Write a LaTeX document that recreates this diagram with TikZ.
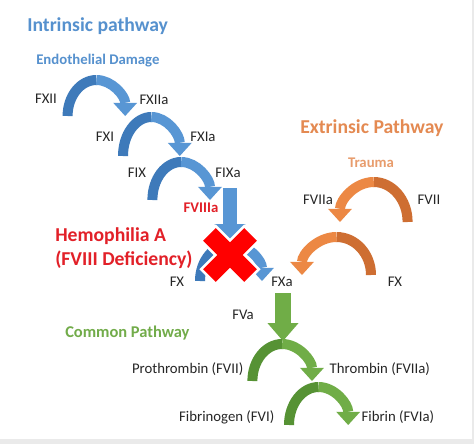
\documentclass[tikz,border=0pt]{standalone}
\usepackage{fontspec}
\setmainfont{Carlito}
\usepackage{tikz}
\usetikzlibrary{arrows.meta}
\definecolor{coagblue}{RGB}{88,150,212}
\definecolor{coagbluedark}{RGB}{62,122,186}
\definecolor{coagbluetxt}{RGB}{86,145,206}
\definecolor{coagorange}{RGB}{236,136,68}
\definecolor{coagorangedark}{RGB}{206,110,50}
\definecolor{coagorangetxt}{RGB}{228,138,82}
\definecolor{coaggreen}{RGB}{112,173,71}
\definecolor{coaggreendark}{RGB}{86,146,52}
\definecolor{coaggreentxt}{RGB}{114,172,74}
\definecolor{coagred}{RGB}{226,32,40}
\definecolor{coaggray}{RGB}{234,234,234}

% ribbon arrow: #1 foot, #2 start angle, #3 end angle, #4 x radius, #5 y radius, #6 colour
\newcommand{\ribbonarc}[6]{%
  \draw[#6dark, line width=0.25cm] (#1) arc[start angle=#2, end angle=90, x radius=#4, y radius=#5] coordinate (#1top);
  \draw[bendarc, #6] (#1top) arc[start angle=90, end angle=#3, x radius=#4, y radius=#5];
}

\begin{document}
\begin{tikzpicture}[
    factor/.style={font=\fontsize{10.5}{12}\selectfont, text=black!85, inner sep=1pt},
    heading/.style={font=\fontsize{14}{16}\selectfont\bfseries, anchor=west, inner sep=0pt},
    subheading/.style={font=\fontsize{10.5}{12}\selectfont\bfseries, inner sep=0pt},
    bendarc/.style={line width=0.25cm, -{Triangle[length=0.33cm, width=0.6cm, line width=0pt]}},
    droparrow/.style={-{Triangle[length=0.45cm, width=0.78cm, line width=0pt]}}
  ]
  % page and frame
  \fill[coaggray] (0,0) rectangle (11.85,11.1);
  \fill[white] (0,0.125) rectangle (11.8,11.1);

  % intrinsic pathway
  \node[heading, text=coagbluetxt] (intr) at (0.675,10.45) {Intrinsic pathway};
  \node[subheading, anchor=west, text=coagbluetxt] (endo) at (0.9,9.575) {Endothelial Damage};
  \node[factor] (fxii) at (1.15,8.625) {FXII};
  \node[factor] (fxiia) at (3.85,8.6) {FXIIa};
  \node[factor] (fxi) at (2.625,7.675) {FXI};
  \node[factor] (fxia) at (5.075,7.675) {FXIa};
  \node[factor] (fix) at (3.425,6.775) {FIX};
  \node[factor] (fixa) at (5.7,6.775) {FIXa};
  \node[factor, font=\fontsize{10.5}{12}\selectfont\bfseries, text=coagred] (fviiia) at (5.025,5.9) {FVIIIa};
  \node[factor] (fxl) at (4.425,4.05) {FX};
  \node[factor] (fxa) at (7.05,4.05) {FXa};

  \coordinate (i1) at (1.69,8.2);
  \coordinate (i2) at (3.075,7.2);
  \coordinate (i3) at (3.81,6.1);
  \coordinate (i4) at (5.0,4.075);
  \coordinate (bt) at (5.75,6.4);
  \coordinate (bb) at (5.75,5.05);
  \coordinate (hx) at (5.75,4.725);

  \ribbonarc{i1}{180}{0}{0.72}{0.9}{coagblue}
  \ribbonarc{i2}{180}{0}{0.71}{0.975}{coagblue}
  \ribbonarc{i3}{180}{0}{0.72}{0.95}{coagblue}
  \ribbonarc{i4}{180}{0}{0.775}{0.925}{coagblue}
  \draw[droparrow, coagblue, line width=0.35cm] (bt) -- (bb);

  % hemophilia block
  \draw[white, line width=0.58cm] (hx) ++(-0.56,-0.56) -- ++(1.12,1.12);
  \draw[white, line width=0.58cm] (hx) ++(-0.56,0.56) -- ++(1.12,-1.12);
  \draw[red, line width=0.45cm] (hx) ++(-0.515,-0.515) -- ++(1.03,1.03);
  \draw[red, line width=0.45cm] (hx) ++(-0.515,0.515) -- ++(1.03,-1.03);
  \node[font=\fontsize{14}{17}\selectfont\bfseries, text=coagred, anchor=west, align=left, inner sep=0pt] (hemo) at (1.375,4.9) {Hemophilia A\\(FVIII Deficiency)};

  % extrinsic pathway
  \node[heading, text=coagorangetxt] (extr) at (7.5,7.9) {Extrinsic Pathway};
  \node[subheading, text=coagorangetxt!85] (trauma) at (9.275,7.025) {Trauma};
  \node[factor] (fviia) at (7.95,6.1) {FVIIa};
  \node[factor] (fvii) at (10.725,6.1) {FVII};
  \node[factor] (fxr) at (9.875,4.05) {FX};

  \coordinate (e1) at (10.19,5.55);
  \coordinate (e2) at (9.275,4.225);
  \ribbonarc{e1}{0}{180}{0.845}{1.0}{coagorange}
  \ribbonarc{e2}{0}{180}{0.8625}{0.95}{coagorange}

  % common pathway
  \node[heading, font=\fontsize{11.7}{14}\selectfont\bfseries, text=coaggreentxt] (comm) at (1.625,2.775) {Common Pathway};
  \node[factor] (fva) at (6.075,3.225) {FVa};
  \node[factor, anchor=east] (proth) at (6.125,1.875) {Prothrombin (FVII)};
  \node[factor, anchor=west] (thromb) at (8.2,1.875) {Thrombin (FVIIa)};
  \node[factor, anchor=east] (fibgen) at (6.9,0.675) {Fibrinogen (FVI)};
  \node[factor, anchor=west] (fibrin) at (9.0,0.675) {Fibrin (FVIa)};

  \coordinate (gt) at (7.075,3.775);
  \coordinate (gb) at (7.075,2.575);
  \coordinate (c1) at (6.31,1.575);
  \coordinate (c2) at (7.225,0.475);
  \draw[droparrow, coaggreen, line width=0.4cm] (gt) -- (gb);
  \ribbonarc{c1}{180}{0}{0.745}{0.925}{coaggreen}
  \ribbonarc{c2}{180}{0}{0.74}{0.95}{coaggreen}
\end{tikzpicture}
\end{document}
